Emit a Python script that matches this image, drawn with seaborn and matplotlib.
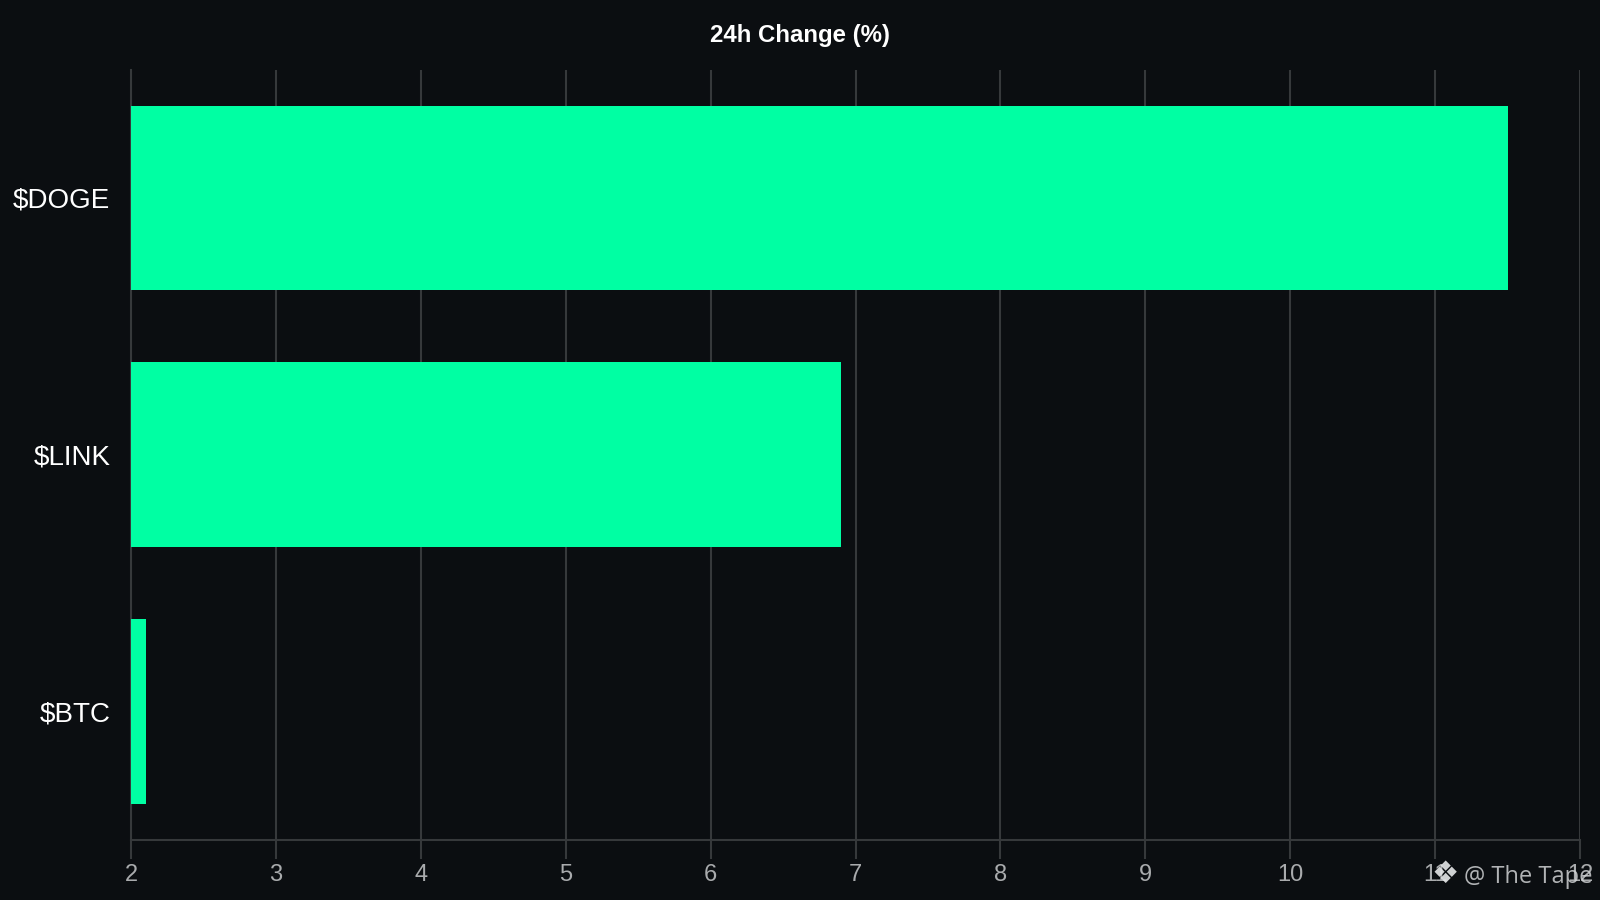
import matplotlib
matplotlib.use('Agg')
import matplotlib.pyplot as plt
import seaborn as sns
import pandas as pd

# data
coins = ['$DOGE', '$LINK', '$BTC']
change_24h = [11.5, 6.9, 2.1]

df = pd.DataFrame({'coin': coins, 'change': change_24h})

bg = '#0b0e11'
green = '#00ffa3'
grid = '#36393b'

sns.set_theme(style='dark')
plt.rcParams['font.family'] = ['Liberation Sans', 'DejaVu Sans']

fig = plt.figure(figsize=(16, 9), dpi=100, facecolor=bg)
ax = fig.add_axes([0.082, 0.0667, 0.9055, 0.856])
ax.set_facecolor(bg)

sns.barplot(data=df, x='change', y='coin', color=green, saturation=1,
            width=0.72, ax=ax, zorder=3, linewidth=0)

ax.set_xlim(2, 12)
ax.set_ylim(2.5, -0.5)
ax.set_xticks(range(2, 13))
ax.grid(axis='x', color=grid, linewidth=1.5, zorder=0)
ax.grid(axis='y', visible=False)
ax.set_xlabel('')
ax.set_ylabel('')

for s in ['top', 'right']:
    ax.spines[s].set_visible(False)
for s in ['left', 'bottom']:
    ax.spines[s].set_visible(True)
    ax.spines[s].set_color(grid)
    ax.spines[s].set_linewidth(1.5)

ax.tick_params(axis='x', colors='#a9abad', labelsize=17, length=13.5, width=1.5,
               direction='out', pad=4, bottom=True)
ax.tick_params(axis='x', color=grid)
ax.tick_params(axis='y', colors='white', labelsize=20, length=0, pad=15)
for t in ax.get_yticklabels():
    t.set_color('white')

fig.text(0.5, 0.961, '24h Change (%)', color='white', fontsize=17.3,
         fontweight='bold', ha='center', va='center')

# watermark (logo + handle)
fig.text(0.903, 0.028, '❖', color='#e6e7e8', fontsize=22, alpha=0.9,
         ha='center', va='center', family=['DejaVu Sans'], zorder=10)
fig.text(0.995, 0.026, '@ The Tape', color='#cfd1d3', fontsize=17, alpha=0.85,
         ha='right', va='center', family=['Open Sans', 'DejaVu Sans'], zorder=10)

fig.savefig('out.png', dpi=100, facecolor=bg)
